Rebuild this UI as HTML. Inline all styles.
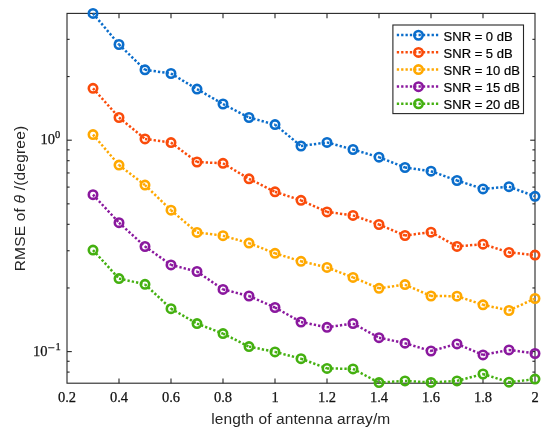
<!DOCTYPE html><html><head><meta charset="utf-8"><title>RMSE vs antenna array length</title><style>html,body{margin:0;padding:0;background:#fff;}svg{display:block;}</style></head><body>
<svg width="550" height="438" viewBox="0 0 550 438">
<rect width="550" height="438" fill="#fff"/>
<g stroke="#262626" stroke-width="1.1" fill="none">
<rect x="67.0" y="13.4" width="468.0" height="369.8"/>
<line x1="119.00" y1="383.2" x2="119.00" y2="378.4"/>
<line x1="119.00" y1="13.4" x2="119.00" y2="18.2"/>
<line x1="171.00" y1="383.2" x2="171.00" y2="378.4"/>
<line x1="171.00" y1="13.4" x2="171.00" y2="18.2"/>
<line x1="223.00" y1="383.2" x2="223.00" y2="378.4"/>
<line x1="223.00" y1="13.4" x2="223.00" y2="18.2"/>
<line x1="275.00" y1="383.2" x2="275.00" y2="378.4"/>
<line x1="275.00" y1="13.4" x2="275.00" y2="18.2"/>
<line x1="327.00" y1="383.2" x2="327.00" y2="378.4"/>
<line x1="327.00" y1="13.4" x2="327.00" y2="18.2"/>
<line x1="379.00" y1="383.2" x2="379.00" y2="378.4"/>
<line x1="379.00" y1="13.4" x2="379.00" y2="18.2"/>
<line x1="431.00" y1="383.2" x2="431.00" y2="378.4"/>
<line x1="431.00" y1="13.4" x2="431.00" y2="18.2"/>
<line x1="483.00" y1="383.2" x2="483.00" y2="378.4"/>
<line x1="483.00" y1="13.4" x2="483.00" y2="18.2"/>
<line x1="67.0" y1="351.60" x2="71.8" y2="351.60"/>
<line x1="535.0" y1="351.60" x2="530.2" y2="351.60"/>
<line x1="67.0" y1="140.20" x2="71.8" y2="140.20"/>
<line x1="535.0" y1="140.20" x2="530.2" y2="140.20"/>
<line x1="67.0" y1="372.09" x2="69.6" y2="372.09"/>
<line x1="535.0" y1="372.09" x2="532.4" y2="372.09"/>
<line x1="67.0" y1="361.27" x2="69.6" y2="361.27"/>
<line x1="535.0" y1="361.27" x2="532.4" y2="361.27"/>
<line x1="67.0" y1="287.96" x2="69.6" y2="287.96"/>
<line x1="535.0" y1="287.96" x2="532.4" y2="287.96"/>
<line x1="67.0" y1="250.74" x2="69.6" y2="250.74"/>
<line x1="535.0" y1="250.74" x2="532.4" y2="250.74"/>
<line x1="67.0" y1="224.32" x2="69.6" y2="224.32"/>
<line x1="535.0" y1="224.32" x2="532.4" y2="224.32"/>
<line x1="67.0" y1="203.84" x2="69.6" y2="203.84"/>
<line x1="535.0" y1="203.84" x2="532.4" y2="203.84"/>
<line x1="67.0" y1="187.10" x2="69.6" y2="187.10"/>
<line x1="535.0" y1="187.10" x2="532.4" y2="187.10"/>
<line x1="67.0" y1="172.95" x2="69.6" y2="172.95"/>
<line x1="535.0" y1="172.95" x2="532.4" y2="172.95"/>
<line x1="67.0" y1="160.69" x2="69.6" y2="160.69"/>
<line x1="535.0" y1="160.69" x2="532.4" y2="160.69"/>
<line x1="67.0" y1="149.87" x2="69.6" y2="149.87"/>
<line x1="535.0" y1="149.87" x2="532.4" y2="149.87"/>
<line x1="67.0" y1="76.56" x2="69.6" y2="76.56"/>
<line x1="535.0" y1="76.56" x2="532.4" y2="76.56"/>
<line x1="67.0" y1="39.34" x2="69.6" y2="39.34"/>
<line x1="535.0" y1="39.34" x2="532.4" y2="39.34"/>
</g>
<g stroke="#0A6DCB" stroke-width="2.5" stroke-dasharray="2.3 2.05">
<line x1="93.00" y1="13.4" x2="119.00" y2="44.5"/>
<line x1="119.00" y1="44.5" x2="145.00" y2="69.8"/>
<line x1="145.00" y1="69.8" x2="171.00" y2="73.5"/>
<line x1="171.00" y1="73.5" x2="197.00" y2="89.1"/>
<line x1="197.00" y1="89.1" x2="223.00" y2="104.0"/>
<line x1="223.00" y1="104.0" x2="249.00" y2="117.5"/>
<line x1="249.00" y1="117.5" x2="275.00" y2="124.6"/>
<line x1="275.00" y1="124.6" x2="301.00" y2="146.0"/>
<line x1="301.00" y1="146.0" x2="327.00" y2="142.4"/>
<line x1="327.00" y1="142.4" x2="353.00" y2="149.5"/>
<line x1="353.00" y1="149.5" x2="379.00" y2="157.2"/>
<line x1="379.00" y1="157.2" x2="405.00" y2="167.5"/>
<line x1="405.00" y1="167.5" x2="431.00" y2="171.2"/>
<line x1="431.00" y1="171.2" x2="457.00" y2="180.5"/>
<line x1="457.00" y1="180.5" x2="483.00" y2="188.9"/>
<line x1="483.00" y1="188.9" x2="509.00" y2="186.7"/>
<line x1="509.00" y1="186.7" x2="535.00" y2="196.3"/>
</g>
<g fill="none" stroke="#0A6DCB" stroke-width="2.6">
<circle cx="93.00" cy="13.4" r="4.2"/>
<circle cx="119.00" cy="44.5" r="4.2"/>
<circle cx="145.00" cy="69.8" r="4.2"/>
<circle cx="171.00" cy="73.5" r="4.2"/>
<circle cx="197.00" cy="89.1" r="4.2"/>
<circle cx="223.00" cy="104.0" r="4.2"/>
<circle cx="249.00" cy="117.5" r="4.2"/>
<circle cx="275.00" cy="124.6" r="4.2"/>
<circle cx="301.00" cy="146.0" r="4.2"/>
<circle cx="327.00" cy="142.4" r="4.2"/>
<circle cx="353.00" cy="149.5" r="4.2"/>
<circle cx="379.00" cy="157.2" r="4.2"/>
<circle cx="405.00" cy="167.5" r="4.2"/>
<circle cx="431.00" cy="171.2" r="4.2"/>
<circle cx="457.00" cy="180.5" r="4.2"/>
<circle cx="483.00" cy="188.9" r="4.2"/>
<circle cx="509.00" cy="186.7" r="4.2"/>
<circle cx="535.00" cy="196.3" r="4.2"/>
</g>
<g stroke="#FA4B0A" stroke-width="2.5" stroke-dasharray="2.3 2.05">
<line x1="93.00" y1="88.3" x2="119.00" y2="117.5"/>
<line x1="119.00" y1="117.5" x2="145.00" y2="138.9"/>
<line x1="145.00" y1="138.9" x2="171.00" y2="142.6"/>
<line x1="171.00" y1="142.6" x2="197.00" y2="162.0"/>
<line x1="197.00" y1="162.0" x2="223.00" y2="163.3"/>
<line x1="223.00" y1="163.3" x2="249.00" y2="178.8"/>
<line x1="249.00" y1="178.8" x2="275.00" y2="191.8"/>
<line x1="275.00" y1="191.8" x2="301.00" y2="200.3"/>
<line x1="301.00" y1="200.3" x2="327.00" y2="211.9"/>
<line x1="327.00" y1="211.9" x2="353.00" y2="215.4"/>
<line x1="353.00" y1="215.4" x2="379.00" y2="224.5"/>
<line x1="379.00" y1="224.5" x2="405.00" y2="235.5"/>
<line x1="405.00" y1="235.5" x2="431.00" y2="232.2"/>
<line x1="431.00" y1="232.2" x2="457.00" y2="246.4"/>
<line x1="457.00" y1="246.4" x2="483.00" y2="244.2"/>
<line x1="483.00" y1="244.2" x2="509.00" y2="252.4"/>
<line x1="509.00" y1="252.4" x2="535.00" y2="255.1"/>
</g>
<g fill="none" stroke="#FA4B0A" stroke-width="2.6">
<circle cx="93.00" cy="88.3" r="4.2"/>
<circle cx="119.00" cy="117.5" r="4.2"/>
<circle cx="145.00" cy="138.9" r="4.2"/>
<circle cx="171.00" cy="142.6" r="4.2"/>
<circle cx="197.00" cy="162.0" r="4.2"/>
<circle cx="223.00" cy="163.3" r="4.2"/>
<circle cx="249.00" cy="178.8" r="4.2"/>
<circle cx="275.00" cy="191.8" r="4.2"/>
<circle cx="301.00" cy="200.3" r="4.2"/>
<circle cx="327.00" cy="211.9" r="4.2"/>
<circle cx="353.00" cy="215.4" r="4.2"/>
<circle cx="379.00" cy="224.5" r="4.2"/>
<circle cx="405.00" cy="235.5" r="4.2"/>
<circle cx="431.00" cy="232.2" r="4.2"/>
<circle cx="457.00" cy="246.4" r="4.2"/>
<circle cx="483.00" cy="244.2" r="4.2"/>
<circle cx="509.00" cy="252.4" r="4.2"/>
<circle cx="535.00" cy="255.1" r="4.2"/>
</g>
<g stroke="#FFA800" stroke-width="2.5" stroke-dasharray="2.3 2.05">
<line x1="93.00" y1="134.6" x2="119.00" y2="165.1"/>
<line x1="119.00" y1="165.1" x2="145.00" y2="185.1"/>
<line x1="145.00" y1="185.1" x2="171.00" y2="210.2"/>
<line x1="171.00" y1="210.2" x2="197.00" y2="232.4"/>
<line x1="197.00" y1="232.4" x2="223.00" y2="235.7"/>
<line x1="223.00" y1="235.7" x2="249.00" y2="243.1"/>
<line x1="249.00" y1="243.1" x2="275.00" y2="253.3"/>
<line x1="275.00" y1="253.3" x2="301.00" y2="261.3"/>
<line x1="301.00" y1="261.3" x2="327.00" y2="267.4"/>
<line x1="327.00" y1="267.4" x2="353.00" y2="277.4"/>
<line x1="353.00" y1="277.4" x2="379.00" y2="288.3"/>
<line x1="379.00" y1="288.3" x2="405.00" y2="284.6"/>
<line x1="405.00" y1="284.6" x2="431.00" y2="296.0"/>
<line x1="431.00" y1="296.0" x2="457.00" y2="296.2"/>
<line x1="457.00" y1="296.2" x2="483.00" y2="304.8"/>
<line x1="483.00" y1="304.8" x2="509.00" y2="310.5"/>
<line x1="509.00" y1="310.5" x2="535.00" y2="298.5"/>
</g>
<g fill="none" stroke="#FFA800" stroke-width="2.6">
<circle cx="93.00" cy="134.6" r="4.2"/>
<circle cx="119.00" cy="165.1" r="4.2"/>
<circle cx="145.00" cy="185.1" r="4.2"/>
<circle cx="171.00" cy="210.2" r="4.2"/>
<circle cx="197.00" cy="232.4" r="4.2"/>
<circle cx="223.00" cy="235.7" r="4.2"/>
<circle cx="249.00" cy="243.1" r="4.2"/>
<circle cx="275.00" cy="253.3" r="4.2"/>
<circle cx="301.00" cy="261.3" r="4.2"/>
<circle cx="327.00" cy="267.4" r="4.2"/>
<circle cx="353.00" cy="277.4" r="4.2"/>
<circle cx="379.00" cy="288.3" r="4.2"/>
<circle cx="405.00" cy="284.6" r="4.2"/>
<circle cx="431.00" cy="296.0" r="4.2"/>
<circle cx="457.00" cy="296.2" r="4.2"/>
<circle cx="483.00" cy="304.8" r="4.2"/>
<circle cx="509.00" cy="310.5" r="4.2"/>
<circle cx="535.00" cy="298.5" r="4.2"/>
</g>
<g stroke="#8A189E" stroke-width="2.5" stroke-dasharray="2.3 2.05">
<line x1="93.00" y1="194.7" x2="119.00" y2="222.7"/>
<line x1="119.00" y1="222.7" x2="145.00" y2="246.5"/>
<line x1="145.00" y1="246.5" x2="171.00" y2="264.9"/>
<line x1="171.00" y1="264.9" x2="197.00" y2="271.5"/>
<line x1="197.00" y1="271.5" x2="223.00" y2="289.4"/>
<line x1="223.00" y1="289.4" x2="249.00" y2="296.0"/>
<line x1="249.00" y1="296.0" x2="275.00" y2="307.5"/>
<line x1="275.00" y1="307.5" x2="301.00" y2="322.0"/>
<line x1="301.00" y1="322.0" x2="327.00" y2="327.3"/>
<line x1="327.00" y1="327.3" x2="353.00" y2="323.5"/>
<line x1="353.00" y1="323.5" x2="379.00" y2="337.7"/>
<line x1="379.00" y1="337.7" x2="405.00" y2="343.2"/>
<line x1="405.00" y1="343.2" x2="431.00" y2="351.0"/>
<line x1="431.00" y1="351.0" x2="457.00" y2="343.9"/>
<line x1="457.00" y1="343.9" x2="483.00" y2="354.9"/>
<line x1="483.00" y1="354.9" x2="509.00" y2="349.9"/>
<line x1="509.00" y1="349.9" x2="535.00" y2="353.5"/>
</g>
<g fill="none" stroke="#8A189E" stroke-width="2.6">
<circle cx="93.00" cy="194.7" r="4.2"/>
<circle cx="119.00" cy="222.7" r="4.2"/>
<circle cx="145.00" cy="246.5" r="4.2"/>
<circle cx="171.00" cy="264.9" r="4.2"/>
<circle cx="197.00" cy="271.5" r="4.2"/>
<circle cx="223.00" cy="289.4" r="4.2"/>
<circle cx="249.00" cy="296.0" r="4.2"/>
<circle cx="275.00" cy="307.5" r="4.2"/>
<circle cx="301.00" cy="322.0" r="4.2"/>
<circle cx="327.00" cy="327.3" r="4.2"/>
<circle cx="353.00" cy="323.5" r="4.2"/>
<circle cx="379.00" cy="337.7" r="4.2"/>
<circle cx="405.00" cy="343.2" r="4.2"/>
<circle cx="431.00" cy="351.0" r="4.2"/>
<circle cx="457.00" cy="343.9" r="4.2"/>
<circle cx="483.00" cy="354.9" r="4.2"/>
<circle cx="509.00" cy="349.9" r="4.2"/>
<circle cx="535.00" cy="353.5" r="4.2"/>
</g>
<g stroke="#44B010" stroke-width="2.5" stroke-dasharray="2.3 2.05">
<line x1="93.00" y1="250.1" x2="119.00" y2="278.6"/>
<line x1="119.00" y1="278.6" x2="145.00" y2="284.3"/>
<line x1="145.00" y1="284.3" x2="171.00" y2="308.7"/>
<line x1="171.00" y1="308.7" x2="197.00" y2="323.6"/>
<line x1="197.00" y1="323.6" x2="223.00" y2="333.6"/>
<line x1="223.00" y1="333.6" x2="249.00" y2="346.6"/>
<line x1="249.00" y1="346.6" x2="275.00" y2="351.9"/>
<line x1="275.00" y1="351.9" x2="301.00" y2="358.7"/>
<line x1="301.00" y1="358.7" x2="327.00" y2="368.4"/>
<line x1="327.00" y1="368.4" x2="353.00" y2="368.9"/>
<line x1="353.00" y1="368.9" x2="379.00" y2="382.6"/>
<line x1="379.00" y1="382.6" x2="405.00" y2="380.9"/>
<line x1="405.00" y1="380.9" x2="431.00" y2="382.4"/>
<line x1="431.00" y1="382.4" x2="457.00" y2="380.9"/>
<line x1="457.00" y1="380.9" x2="483.00" y2="374.0"/>
<line x1="483.00" y1="374.0" x2="509.00" y2="382.2"/>
<line x1="509.00" y1="382.2" x2="535.00" y2="379.1"/>
</g>
<g fill="none" stroke="#44B010" stroke-width="2.6">
<circle cx="93.00" cy="250.1" r="4.2"/>
<circle cx="119.00" cy="278.6" r="4.2"/>
<circle cx="145.00" cy="284.3" r="4.2"/>
<circle cx="171.00" cy="308.7" r="4.2"/>
<circle cx="197.00" cy="323.6" r="4.2"/>
<circle cx="223.00" cy="333.6" r="4.2"/>
<circle cx="249.00" cy="346.6" r="4.2"/>
<circle cx="275.00" cy="351.9" r="4.2"/>
<circle cx="301.00" cy="358.7" r="4.2"/>
<circle cx="327.00" cy="368.4" r="4.2"/>
<circle cx="353.00" cy="368.9" r="4.2"/>
<circle cx="379.00" cy="382.6" r="4.2"/>
<circle cx="405.00" cy="380.9" r="4.2"/>
<circle cx="431.00" cy="382.4" r="4.2"/>
<circle cx="457.00" cy="380.9" r="4.2"/>
<circle cx="483.00" cy="374.0" r="4.2"/>
<circle cx="509.00" cy="382.2" r="4.2"/>
<circle cx="535.00" cy="379.1" r="4.2"/>
</g>
<g font-family="Liberation Serif, serif" font-size="14.5" fill="#111" stroke="#111" stroke-width="0.25" text-anchor="middle">
<text x="67.00" y="401.9">0.2</text>
<text x="119.00" y="401.9">0.4</text>
<text x="171.00" y="401.9">0.6</text>
<text x="223.00" y="401.9">0.8</text>
<text x="275.00" y="401.9">1</text>
<text x="327.00" y="401.9">1.2</text>
<text x="379.00" y="401.9">1.4</text>
<text x="431.00" y="401.9">1.6</text>
<text x="483.00" y="401.9">1.8</text>
<text x="535.00" y="401.9">2</text>
</g>
<g font-family="Liberation Serif, serif" fill="#111" stroke="#111" stroke-width="0.25">
<text x="40.5" y="143.8" font-size="14.5">10</text><text x="55.0" y="138.3" font-size="10.5">0</text>
<text x="33" y="355.5" font-size="14.5">10</text><text x="47.6" y="352.3" font-size="12.5">−</text><text x="55.6" y="350.0" font-size="10.5">1</text>
</g>
<text x="300.8" y="424.3" font-family="Liberation Sans, Arial, sans-serif" font-size="15.5" letter-spacing="0.1" fill="#262626" text-anchor="middle">length of antenna array/m</text>
<text transform="translate(25.2,198.5) rotate(-90)" font-family="Liberation Sans, Arial, sans-serif" font-size="15.5" letter-spacing="0.2" fill="#262626" text-anchor="middle">RMSE of <tspan font-style="italic">θ</tspan> /(degree)</text>
<rect x="392.9" y="25.0" width="130.6" height="88.6" fill="#fff" stroke="#262626" stroke-width="1.1"/>
<line x1="396.8" y1="35.10" x2="438.2" y2="35.10" stroke="#0A6DCB" stroke-width="2.5" stroke-dasharray="2.3 2.05"/>
<circle cx="418.5" cy="35.25" r="4.2" fill="none" stroke="#0A6DCB" stroke-width="2.6"/>
<text x="443.6" y="40.50" font-family="Liberation Sans, Arial, sans-serif" font-size="13" fill="#000" stroke="#000" stroke-width="0.2">SNR = 0 dB</text>
<line x1="396.8" y1="52.25" x2="438.2" y2="52.25" stroke="#FA4B0A" stroke-width="2.5" stroke-dasharray="2.3 2.05"/>
<circle cx="418.5" cy="52.40" r="4.2" fill="none" stroke="#FA4B0A" stroke-width="2.6"/>
<text x="443.6" y="57.65" font-family="Liberation Sans, Arial, sans-serif" font-size="13" fill="#000" stroke="#000" stroke-width="0.2">SNR = 5 dB</text>
<line x1="396.8" y1="69.40" x2="438.2" y2="69.40" stroke="#FFA800" stroke-width="2.5" stroke-dasharray="2.3 2.05"/>
<circle cx="418.5" cy="69.55" r="4.2" fill="none" stroke="#FFA800" stroke-width="2.6"/>
<text x="443.6" y="74.80" font-family="Liberation Sans, Arial, sans-serif" font-size="13" fill="#000" stroke="#000" stroke-width="0.2">SNR = 10 dB</text>
<line x1="396.8" y1="86.55" x2="438.2" y2="86.55" stroke="#8A189E" stroke-width="2.5" stroke-dasharray="2.3 2.05"/>
<circle cx="418.5" cy="86.70" r="4.2" fill="none" stroke="#8A189E" stroke-width="2.6"/>
<text x="443.6" y="91.95" font-family="Liberation Sans, Arial, sans-serif" font-size="13" fill="#000" stroke="#000" stroke-width="0.2">SNR = 15 dB</text>
<line x1="396.8" y1="103.70" x2="438.2" y2="103.70" stroke="#44B010" stroke-width="2.5" stroke-dasharray="2.3 2.05"/>
<circle cx="418.5" cy="103.85" r="4.2" fill="none" stroke="#44B010" stroke-width="2.6"/>
<text x="443.6" y="109.10" font-family="Liberation Sans, Arial, sans-serif" font-size="13" fill="#000" stroke="#000" stroke-width="0.2">SNR = 20 dB</text>
</svg></body></html>
